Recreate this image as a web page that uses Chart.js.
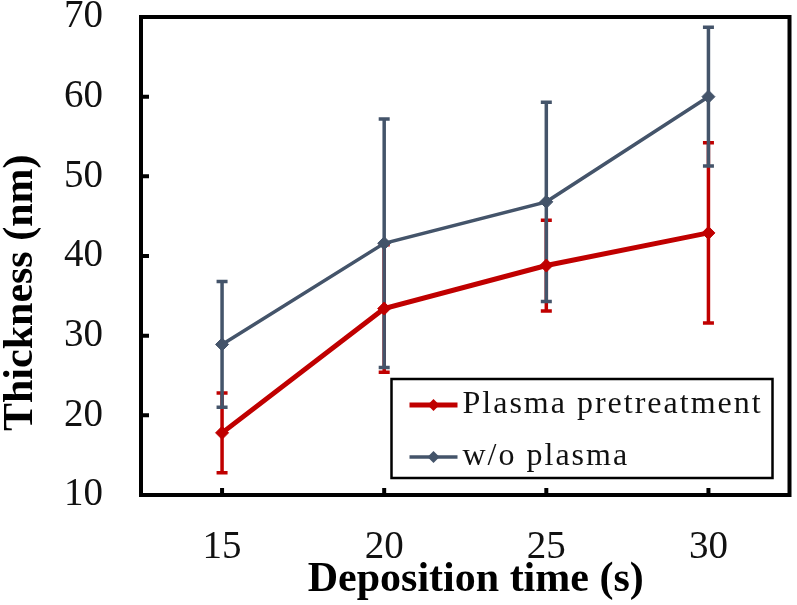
<!DOCTYPE html>
<html>
<head>
<meta charset="utf-8">
<script src="https://cdn.jsdelivr.net/npm/chart.js@4.4.0/dist/chart.umd.min.js"></script>
<style>
  html, body { margin: 0; padding: 0; background: #fff; }
  #wrap { width: 797px; height: 605px; }
</style>
</head>
<body>
<div id="wrap"><canvas id="thicknessChart"></canvas></div>
<script>
// deposition time categories (s)
const times = ['15', '20', '25', '30'];

// thickness (nm) and error bars
const plasmaValues = [17.8, 33.4, 38.8, 42.9];
const plasmaErrors = [5.0, 8.0, 5.7, 11.3];
const noPlasmaValues = [28.9, 41.6, 46.8, 60.0];
const noPlasmaErrors = [7.9, 15.6, 12.5, 8.7];

const yTicks = [10, 20, 30, 40, 50, 60, 70];

const RED = '#C00000';
const BLUE = '#44546A';
const SERIF = "'Liberation Serif', 'Times New Roman', serif";

// error bars, drawn under the lines
const errorBars = {
    id: 'errorBars',
    beforeDatasetsDraw(chart) {
        const ctx = chart.ctx;
        const x = chart.scales.x;
        const y = chart.scales.y;
        chart.data.datasets.forEach(function(ds) {
            ctx.save();
            ctx.strokeStyle = ds.borderColor;
            ctx.lineWidth = 3.5;
            ds.errors.forEach(function(err, i) {
                const px = x.getPixelForValue(i);
                const top = y.getPixelForValue(ds.data[i] + err);
                const bot = y.getPixelForValue(ds.data[i] - err);
                ctx.beginPath();
                ctx.moveTo(px, top);
                ctx.lineTo(px, bot);
                ctx.moveTo(px - 5.5, top);
                ctx.lineTo(px + 5.5, top);
                ctx.moveTo(px - 5.5, bot);
                ctx.lineTo(px + 5.5, bot);
                ctx.stroke();
            });
            ctx.restore();
        });
    }
};

// box frame with inward ticks + boxed legend
const frameAndLegend = {
    id: 'frameAndLegend',
    afterDraw(chart) {
        const ctx = chart.ctx;
        const a = chart.chartArea;
        const x = chart.scales.x;
        const y = chart.scales.y;
        ctx.save();
        ctx.strokeStyle = '#000';
        ctx.lineWidth = 4;
        ctx.beginPath();
        ctx.rect(a.left, a.top, a.right - a.left, a.bottom - a.top);
        ctx.stroke();

        ctx.beginPath();
        yTicks.forEach(function(v) {
            const py = y.getPixelForValue(v);
            ctx.moveTo(a.left, py);
            ctx.lineTo(a.left + 8, py);
        });
        times.forEach(function(t, i) {
            const px = x.getPixelForValue(i);
            ctx.moveTo(px, a.bottom);
            ctx.lineTo(px, a.bottom - 7);
        });
        ctx.stroke();

        // legend box
        const bw = 381, bh = 99;
        const bx = a.right - 17 - bw;
        const by = a.bottom - 17 - bh;
        ctx.fillStyle = '#fff';
        ctx.fillRect(bx, by, bw, bh);
        ctx.lineWidth = 2.5;
        ctx.strokeRect(bx, by, bw, bh);

        chart.data.datasets.forEach(function(ds, i) {
            const ly = by + 26 + i * 52;
            const lx = bx + 18;
            ctx.strokeStyle = ds.borderColor;
            ctx.lineWidth = ds.borderWidth;
            ctx.beginPath();
            ctx.moveTo(lx, ly);
            ctx.lineTo(lx + 48, ly);
            ctx.stroke();
            ctx.fillStyle = ds.borderColor;
            ctx.beginPath();
            ctx.moveTo(lx + 24, ly - 6);
            ctx.lineTo(lx + 30, ly);
            ctx.lineTo(lx + 24, ly + 6);
            ctx.lineTo(lx + 18, ly);
            ctx.closePath();
            ctx.fill();
            ctx.fillStyle = '#111';
            ctx.font = '32px ' + SERIF;
            ctx.letterSpacing = '2px';
            ctx.textBaseline = 'middle';
            ctx.textAlign = 'left';
            ctx.fillText(ds.label, lx + 53, ly);
            ctx.letterSpacing = '0px';
        });
        ctx.restore();
    }
};

const chart = new Chart(document.getElementById('thicknessChart'), {
    type: 'line',
    data: {
        labels: times,
        datasets: [
            {
                label: 'Plasma pretreatment',
                data: plasmaValues,
                errors: plasmaErrors,
                borderColor: RED,
                backgroundColor: RED,
                borderWidth: 5,
                pointStyle: 'rectRot',
                pointRadius: 6.5,
                pointBorderWidth: 1
            },
            {
                label: 'w/o plasma',
                data: noPlasmaValues,
                errors: noPlasmaErrors,
                borderColor: BLUE,
                backgroundColor: BLUE,
                borderWidth: 3.5,
                pointStyle: 'rectRot',
                pointRadius: 6.5,
                pointBorderWidth: 1
            }
        ]
    },
    options: {
        responsive: true,
        maintainAspectRatio: false,
        animation: false,
        layout: { padding: { top: 17, right: 7, left: 0, bottom: 0 } },
        plugins: {
            legend: { display: false },
            tooltip: { enabled: false }
        },
        scales: {
            x: {
                type: 'category',
                offset: true,
                grid: { display: false, drawTicks: false },
                border: { display: false },
                ticks: {
                    color: '#111',
                    padding: 29,
                    font: { family: SERIF, size: 39 }
                },
                title: {
                    display: true,
                    text: '  Deposition time (s)',
                    color: '#000',
                    padding: { top: 0, bottom: 4 },
                    font: { family: SERIF, size: 42, weight: 'bold', lineHeight: 1 }
                },
                afterFit(scale) {
                    scale.height = 110;
                    scale.paddingLeft = 0;
                    scale.paddingRight = 0;
                }
            },
            y: {
                min: 10,
                max: 70,
                grid: { display: false, drawTicks: false },
                border: { display: false },
                ticks: {
                    stepSize: 10,
                    color: '#111',
                    padding: 38,
                    font: { family: SERIF, size: 39 }
                },
                title: {
                    display: true,
                    text: 'Thickness (nm)       ',
                    color: '#000',
                    padding: { top: 0, bottom: 0 },
                    font: { family: SERIF, size: 42, weight: 'bold', lineHeight: 1 }
                },
                afterFit(scale) {
                    scale.width = 141;
                    scale.paddingTop = 0;
                    scale.paddingBottom = 0;
                }
            }
        }
    },
    plugins: [errorBars, frameAndLegend]
});
</script>
</body>
</html>
